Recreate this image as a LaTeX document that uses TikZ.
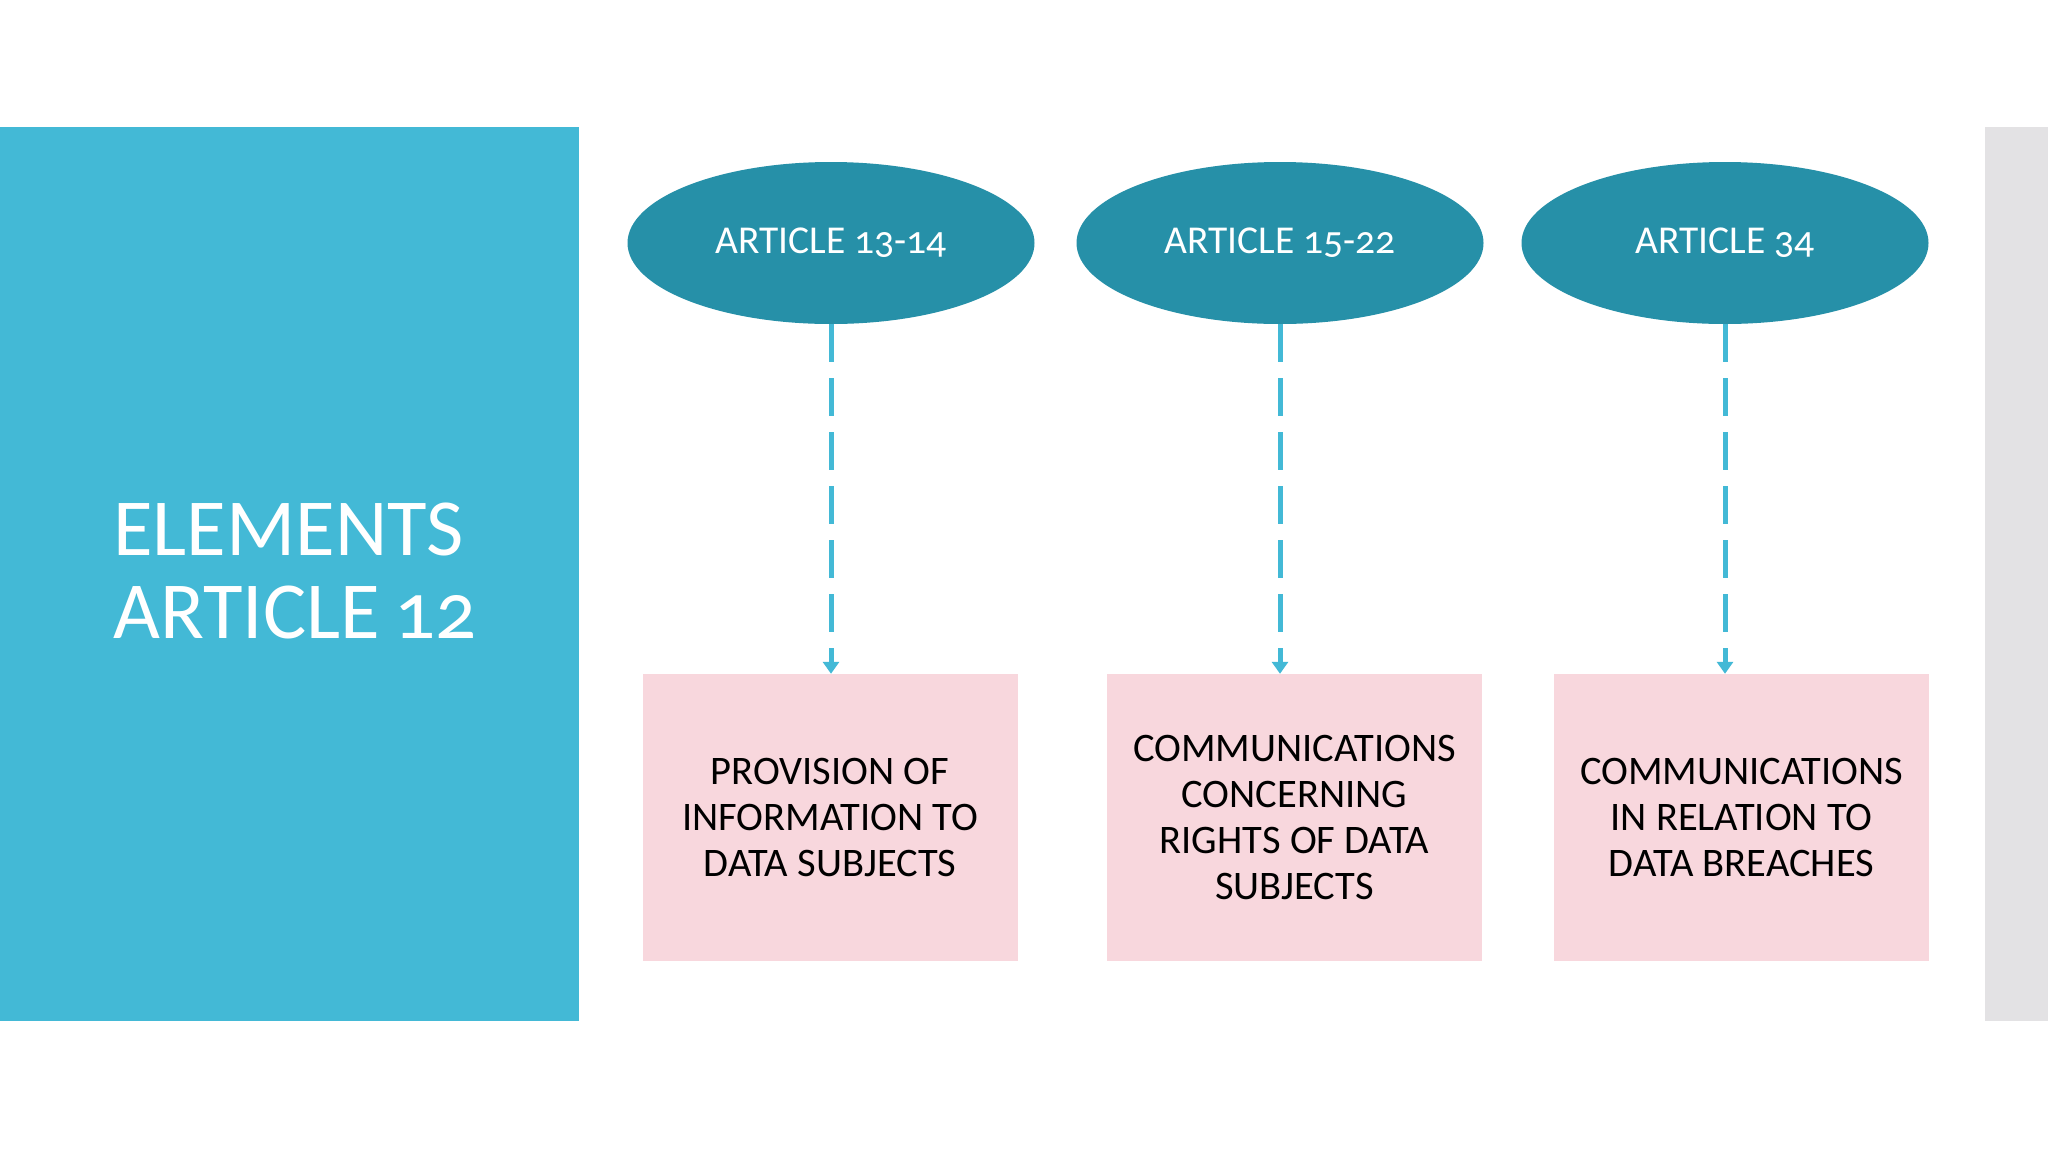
\documentclass[tikz,border=0pt]{standalone}
\usepackage{fontspec}
\setmainfont[Numbers=OldStyle]{Carlito}
\usetikzlibrary{shapes.geometric,arrows.meta}
\definecolor{panelblue}{HTML}{43B9D6}
\definecolor{ovalteal}{HTML}{2690A8}
\definecolor{boxpink}{HTML}{F8D7DD}
\definecolor{sidegray}{HTML}{E3E2E4}
\tikzset{
  oval/.style={ellipse, fill=ovalteal, draw=none, minimum width=407pt, minimum height=162pt, inner sep=0pt, text=white, font=\fontsize{39.5}{45}\selectfont},
  pinkbox/.style={rectangle, fill=boxpink, draw=none, minimum width=375pt, minimum height=287pt, inner sep=0pt, align=center, text=black, font=\fontsize{40.5}{46}\selectfont},
  conn/.style={draw=panelblue, line width=5pt, dash pattern=on 38pt off 16pt, -{Triangle[width=16pt,length=12pt]}},
  titletext/.style={anchor=base west, inner sep=0pt, text=white, font=\fontsize{81}{83}\selectfont}
}
\begin{document}
\begin{tikzpicture}[x=1pt,y=-1pt]
\useasboundingbox (0,0) rectangle (2048,1152);
\fill[white] (0,0) rectangle (2048,1152);
\fill[panelblue] (0,127) rectangle (579,1021);
\fill[sidegray] (1985,127) rectangle (2048,1021);
\node[titletext] (t1) at (113,555) {ELEMENTS};
\node[titletext] (t2) at (113,638) {ARTICLE\hspace{0.18em}12};
\node[oval] (e1) at (831,243) {ARTICLE 13-14};
\node[oval] (e2) at (1280,243) {ARTICLE 15-22};
\node[oval] (e3) at (1725,243) {ARTICLE 34};
\node[pinkbox] (b1) at (830,817.5) {PROVISION OF\\INFORMATION TO\\DATA SUBJECTS};
\node[pinkbox] (b2) at (1294.5,817.5) {COMMUNICATIONS\\CONCERNING\\RIGHTS OF DATA\\SUBJECTS};
\node[pinkbox] (b3) at (1741.5,817.5) {COMMUNICATIONS\\IN RELATION TO\\DATA BREACHES};
\draw[conn] (e1.south) -- (e1.south |- b1.north);
\draw[conn] (e2.south) -- (e2.south |- b2.north);
\draw[conn] (e3.south) -- (e3.south |- b3.north);
\end{tikzpicture}
\end{document}
